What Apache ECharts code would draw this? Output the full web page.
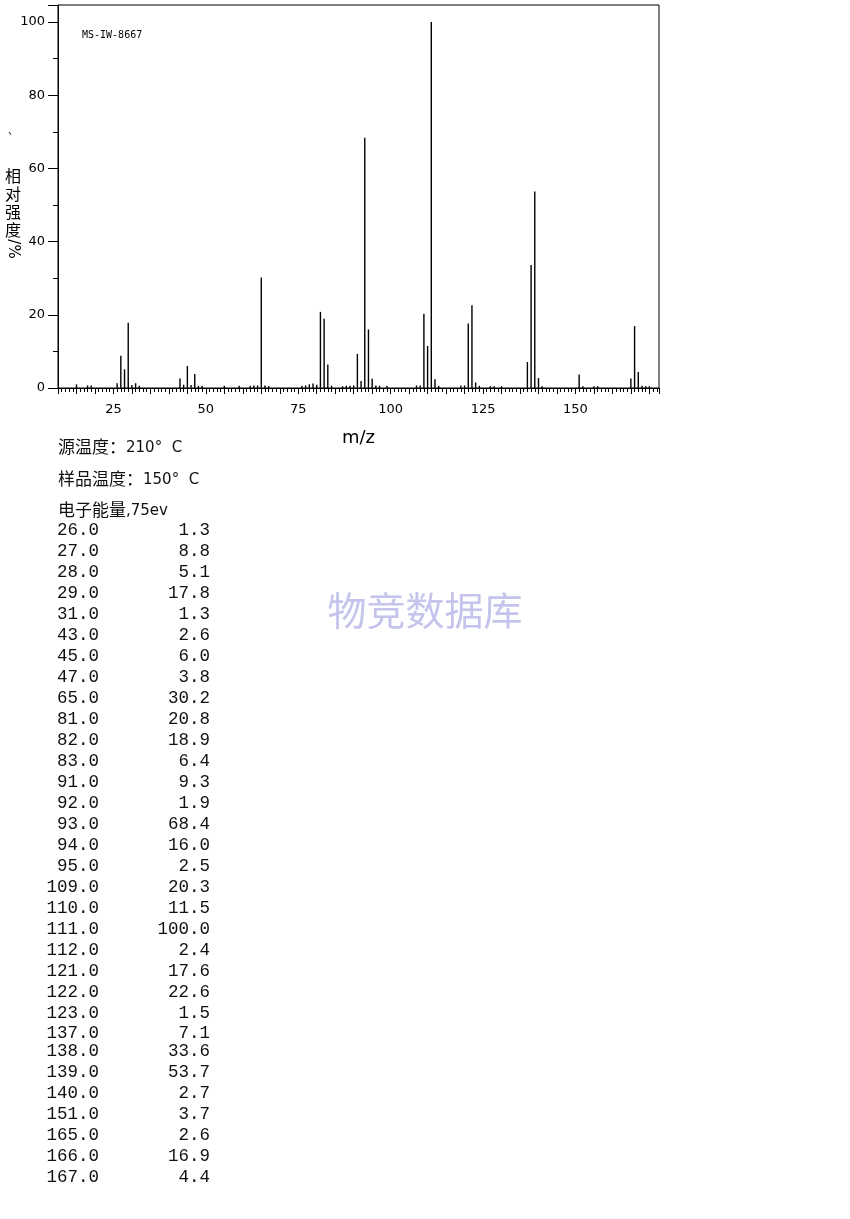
<!DOCTYPE html>
<html>
<head>
<meta charset="utf-8">
<script src="https://cdn.jsdelivr.net/npm/echarts@6/dist/echarts.min.js"></script>
<style>
html,body{margin:0;padding:0;background:#fff;}
#chart{width:850px;height:1219px;}
</style>
</head>
<body>
<div id="chart"></div>
<script>
// Listed peaks (m/z, relative intensity %)
const peakMz = [26,27,28,29,31,43,45,47,65,81,82,83,91,92,93,94,95,109,110,111,112,121,122,123,137,138,139,140,151,165,166,167];
const peakInt = [1.3,8.8,5.1,17.8,1.3,2.6,6.0,3.8,30.2,20.8,18.9,6.4,9.3,1.9,68.4,16.0,2.5,20.3,11.5,100.0,2.4,17.6,22.6,1.5,7.1,33.6,53.7,2.7,3.7,2.6,16.9,4.4];
// Small unlisted peaks visible along the baseline (estimated)
const smallMz = [15,18,19,30,32,44,46,48,49,55,59,62,63,64,66,67,76,77,78,79,80,84,87,88,89,90,96,97,99,107,108,113,119,120,124,127,128,130,141,152,155,156,168,169,170];
const smallInt = [1.0,0.7,0.7,0.8,0.6,0.9,0.8,0.6,0.6,0.6,0.6,0.6,0.7,0.7,0.7,0.5,0.6,0.7,1.0,1.2,0.9,0.6,0.5,0.6,0.6,0.7,0.7,0.6,0.6,0.7,0.7,0.6,0.7,0.7,0.6,0.5,0.5,0.5,0.5,0.5,0.5,0.5,0.6,0.5,0.5];
// Text lines: [CJK part, Latin part]
const sampleId = 'MS-IW-8667';
const headerCjk = ['源温度：', '样品温度：', '电子能量'];
const headerLatin = ['210°  C', '150°  C', ',75ev'];
const yNameChars = ['相', '对', '强', '度'];
const yNameTail = '/%';
const watermark = '物竞数据库';

const chart = echarts.init(document.getElementById('chart'), null, {renderer: 'canvas'});

const barData = [];
peakMz.forEach((m, i) => barData.push([m, peakInt[i]]));
smallMz.forEach((m, i) => barData.push([m, smallInt[i]]));

const graphics = [];
// sample id
graphics.push({type: 'text', style: {x: 82, y: 35, text: sampleId, font: '10px "DejaVu Sans Mono"', fill: '#000', textVerticalAlign: 'middle'}});
// y axis name (vertical)
graphics.push({type: 'text', style: {x: 13, y: 130, text: '、', font: '10px "Noto Sans CJK SC"', fill: '#000', textAlign: 'center', textVerticalAlign: 'middle'}});
yNameChars.forEach((c, i) => {
  graphics.push({type: 'text', style: {x: 13, y: 176 + i * 18, text: c, font: '16px "Noto Sans CJK SC"', fill: '#000', textAlign: 'center', textVerticalAlign: 'middle'}});
});
graphics.push({type: 'text', x: 13, y: 249, rotation: -Math.PI / 2, style: {x: 0, y: 0, text: yNameTail, font: '15px "DejaVu Sans"', fill: '#000', textAlign: 'center', textVerticalAlign: 'middle'}});
// header lines (CJK + Latin parts)
headerCjk.forEach((t, i) => {
  const y = [447, 479, 510][i];
  graphics.push({type: 'text', style: {x: 58, y: y, text: t, font: '17px "Noto Sans CJK SC"', fill: '#111', textVerticalAlign: 'middle'}});
  graphics.push({type: 'text', style: {x: 58 + t.length * 17, y: y + 1, text: headerLatin[i], font: '15px "DejaVu Sans"', fill: '#111', textVerticalAlign: 'middle'}});
});
// peak table
const rowY = [530,551,572,593,614,635,656,677,698,719,740,761,782,803,824,845,866,887,908,929,950,971,992,1013,1033,1051,1072,1093,1114,1135,1156,1177];
peakMz.forEach((m, i) => {
  graphics.push({type: 'text', style: {x: 99, y: rowY[i], text: m.toFixed(1), font: '17.5px "Liberation Mono"', fill: '#111', textAlign: 'right', textVerticalAlign: 'middle'}});
  graphics.push({type: 'text', style: {x: 210, y: rowY[i], text: peakInt[i].toFixed(1), font: '17.5px "Liberation Mono"', fill: '#111', textAlign: 'right', textVerticalAlign: 'middle'}});
});
// watermark
graphics.push({type: 'text', style: {x: 425, y: 610, text: watermark, font: '39px "Noto Sans CJK SC"', fill: '#c4c4ec', textAlign: 'center', textVerticalAlign: 'middle'}});

const option = {
  animation: false,
  backgroundColor: '#fff',
  grid: {left: 58, top: 5, width: 601, height: 383, show: true, borderColor: '#000', borderWidth: 1, backgroundColor: 'transparent'},
  xAxis: [{
    type: 'value', min: 10, max: 10 + 601 / 3.696, interval: 5,
    name: 'm/z', nameLocation: 'middle', nameGap: 41,
    nameTextStyle: {fontFamily: 'DejaVu Sans', fontSize: 18, color: '#000'},
    axisLine: {lineStyle: {color: '#000', width: 1}},
    axisTick: {length: 6, lineStyle: {color: '#000'}},
    minorTick: {show: true, splitNumber: 5, length: 4, lineStyle: {color: '#000'}},
    splitLine: {show: false},
    axisLabel: {margin: 15, fontFamily: 'DejaVu Sans', fontSize: 13, color: '#000', showMaxLabel: false,
      formatter: v => (v % 25 === 0 ? String(v) : '')}
  }],
  yAxis: {
    type: 'value', min: 0, max: 383 / 3.66, interval: 20,
    axisLine: {show: true, lineStyle: {color: '#000', width: 1}},
    axisTick: {show: true, length: 10, lineStyle: {color: '#000'}},
    minorTick: {show: true, splitNumber: 2, length: 5, lineStyle: {color: '#000'}},
    splitLine: {show: false},
    axisLabel: {margin: 13, fontFamily: 'DejaVu Sans', fontSize: 13, color: '#000', showMaxLabel: false,
      formatter: v => (v % 20 === 0 ? String(v) : '')}
  },
  series: [{
    type: 'bar', data: barData, barWidth: 1.4, itemStyle: {color: '#000'}, silent: true
  }],
  graphic: graphics
};
chart.setOption(option);
</script>
</body>
</html>
